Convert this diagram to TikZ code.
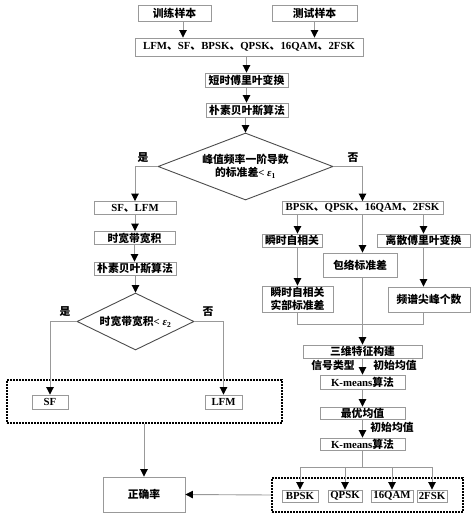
\documentclass[tikz,border=0pt]{standalone}
\usepackage{fontspec}
\setmainfont{Liberation Serif}
\newfontfamily\zh{Noto Sans CJK SC}
\usetikzlibrary{shapes.geometric,arrows.meta,calc}
\newcommand\dn{{\zh 、}}
\begin{document}
\begin{tikzpicture}[x=1pt,y=-1pt,
 box/.style={draw=gray!80, line width=0.9pt, fill=white, inner sep=0pt, font=\fontsize{10.8}{12.8}\selectfont\bfseries, align=center},
 ln/.style={draw=gray!80, line width=0.9pt},
 arr/.style={ln, -{Triangle[length=7.5pt,width=7.5pt,color=black]}},
 lab/.style={inner sep=0pt, font=\fontsize{10.8}{12.8}\selectfont\bfseries\zh},
 dbox/.style={draw=black, line width=1.6pt, dash pattern=on 2pt off 1pt, inner sep=0pt},
 dia/.style={diamond, draw=gray!60!black, line width=0.9pt, inner sep=0pt, font=\fontsize{10.8}{12.8}\selectfont\bfseries, align=center}
]
\path[use as bounding box, fill=white] (0,0) rectangle (474,519);

% dashed groups
\node[dbox, minimum width=275pt, minimum height=43pt] (g1) at (144.5,401.5) {};
\node[dbox, minimum width=191pt, minimum height=34pt] (g2) at (367.5,495) {};

% top
\node[box, minimum width=73pt, minimum height=16pt] (train) at (174.5,13) {\zh 训练样本};
\node[box, minimum width=85pt, minimum height=16pt] (test) at (314.5,13) {\zh 测试样本};
\node[box, minimum width=228pt, minimum height=18pt] (sig) at (249,47) {LFM\dn SF\dn BPSK\dn QPSK\dn 16QAM\dn 2FSK};
\node[box, minimum width=83pt, minimum height=14pt] (stft) at (246.5,80) {\zh 短时傅里叶变换};
\node[box, minimum width=82pt, minimum height=14pt] (nb1) at (247,110) {\zh 朴素贝叶斯算法};
\node[dia, minimum width=175pt, minimum height=67pt, aspect=2.6] (d1) at (245.5,166.5) {{\zh 峰值频率一阶导数}\\{\zh 的标准差}<\ {\itshape ε}\textsubscript{1}};

% left branch
\node[box, minimum width=82pt, minimum height=13pt] (sflfm) at (135,208) {SF\dn LFM};
\node[box, minimum width=81pt, minimum height=13pt] (tbw) at (134.5,238) {\zh 时宽带宽积};
\node[box, minimum width=82pt, minimum height=13pt] (nb2) at (135,268.5) {\zh 朴素贝叶斯算法};
\node[dia, minimum width=117pt, minimum height=57pt, aspect=2.05] (d2) at (135.5,321.5) {{\zh 时宽带宽积}<\ {\itshape ε}\textsubscript{2}};
\node[box, minimum width=36pt, minimum height=14pt] (sf) at (50,402) {SF};
\node[box, minimum width=37pt, minimum height=14pt] (lfm) at (223.5,402) {LFM};
\node[box, minimum width=82pt, minimum height=35pt] (acc) at (144,494.5) {\zh 正确率};

% right branch
\node[box, minimum width=161pt, minimum height=13pt] (bqs) at (362.5,208) {BPSK\dn QPSK\dn 16QAM\dn 2FSK};
\node[box, minimum width=60pt, minimum height=13pt] (ac) at (292,240.5) {\zh 瞬时自相关};
\node[box, minimum width=93pt, minimum height=13pt] (dft) at (423.5,240.5) {\zh 离散傅里叶变换};
\node[box, minimum width=74pt, minimum height=24pt] (env) at (360,265) {\zh 包络标准差};
\node[box, minimum width=71pt, minimum height=26pt] (acstd) at (297.5,299) {\zh 瞬时自相关\\\zh 实部标准差};
\node[box, minimum width=82pt, minimum height=25pt] (peak) at (429,299.5) {\zh 频谱尖峰个数};
\node[box, minimum width=119pt, minimum height=13pt] (feat) at (362.5,351.5) {\zh 三维特征构建};
\node[box, minimum width=85pt, minimum height=14pt] (km1) at (362.5,382) {K-means{\zh 算法}};
\node[box, minimum width=85pt, minimum height=12pt] (best) at (362.5,413) {\zh 最优均值};
\node[box, minimum width=85pt, minimum height=12pt] (km2) at (362.5,444) {K-means{\zh 算法}};
\node[box, minimum width=36pt, minimum height=12pt] (b1) at (300,496) {BPSK};
\node[box, minimum width=34pt, minimum height=12pt] (b2) at (345,496) {QPSK};
\node[box, minimum width=42pt, minimum height=12pt] (b3) at (392,496) {16QAM};
\node[box, minimum width=30pt, minimum height=12pt] (b4) at (432,496) {2FSK};

% labels
\node[lab] (yes1) at (143,158) {是};
\node[lab] (no1) at (353,158) {否};
\node[lab] (yes2) at (65,312) {是};
\node[lab] (no2) at (208,312) {否};
\node[lab] (l1) at (333,365) {信号类型};
\node[lab] (l2) at (395,365) {初始均值};
\node[lab] (l3) at (392,427) {初始均值};

\coordinate (m) at (362.5,324);
\coordinate (j) at (362.5,467);

% connectors
\draw[arr] ([xshift=8.5pt]train.south) -- ([xshift=8.5pt]train.south |- sig.north);
\draw[arr] (test.south) -- (test.south |- sig.north);
\draw[arr] (stft.north |- sig.south) -- (stft.north);
\draw[arr] (stft.south) -- (stft.south |- nb1.north);
\draw[arr] (nb1.south -| d1.north) -- (d1.north);
\draw[arr] (d1.west) -| (sflfm.north);
\draw[arr] (d1.east) -| (bqs.north);
\draw[arr] (sflfm.south) -- (sflfm.south |- tbw.north);
\draw[arr] (tbw.south) -- (tbw.south |- nb2.north);
\draw[arr] (nb2.south -| d2.north) -- (d2.north);
\draw[arr] (d2.west) -| (sf.north);
\draw[arr] (d2.east) -| (lfm.north);
\draw[arr] (g1.south -| acc.north) -- (acc.north);
\draw[arr] (g2.west) -- (acc.east);

\draw[arr] (bqs.south -| acstd.north) -- (ac.north -| acstd.north);
\draw[arr] (ac.south -| acstd.north) -- (acstd.north);
\draw[arr] (bqs.south -| dft.north) -- (dft.north);
\draw[arr] (dft.south) -- (dft.south |- peak.north);
\draw[arr] (bqs.south) -- (bqs.south |- env.north);
\draw[ln] (acstd.south) |- (m);
\draw[ln] (dft.south |- peak.south) |- (m);
\draw[arr] (feat.north |- env.south) -- (feat.north);
\draw[arr] (feat.south) -- (km1.north);
\draw[arr] (km1.south) -- (best.north);
\draw[arr] (best.south) -- (km2.north);
\draw[ln] (km2.south) -- (j);
\draw[ln] (b1.north |- j) -- (b4.north |- j);
\draw[arr] (b1.north |- j) -- (b1.north);
\draw[arr] (b2.north |- j) -- (b2.north);
\draw[arr] (b3.north |- j) -- (b3.north);
\draw[arr] (b4.north |- j) -- (b4.north);
\end{tikzpicture}
\end{document}
